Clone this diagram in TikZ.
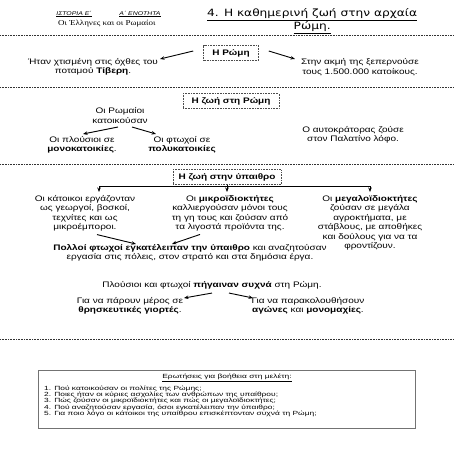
\documentclass[tikz,border=0pt]{standalone}
\usepackage{fontspec}
\setmainfont{Liberation Sans}[FakeStretch=1.25]
\newfontfamily\grserif{Liberation Serif}[FakeStretch=1.2]
\newfontfamily\grtitle{DejaVu Sans}[FakeStretch=1.22]
\newfontfamily\qfont{Liberation Sans}[FakeStretch=1.4]
\usetikzlibrary{arrows.meta}
\begin{document}
\begin{tikzpicture}[x=1pt,y=-1pt,
  every node/.style={inner sep=0pt},
  txt/.style={font=\fontsize{8}{9.5}\selectfont, align=center},
  boxn/.style={draw=black!70, densely dotted, line width=0.6pt, font=\fontsize{8}{9}\selectfont\bfseries, minimum height=15pt},
  arr/.style={-{Stealth[length=4.5pt,width=3.5pt]}, line width=0.9pt},
  stem/.style={line width=0.9pt},
  sep/.style={densely dotted, line width=0.6pt, black!80}]
\useasboundingbox[fill=white] (0,0) rectangle (453,453);

% header
\node[font=\fontsize{5.5}{6}\selectfont\itshape] (hist) at (74,14) {\underline{ΙΣΤΟΡΙΑ Ε΄}};
\node[font=\fontsize{5.5}{6}\selectfont\itshape] (unit) at (140,14) {\underline{Α΄ ΕΝΟΤΗΤΑ}};
\node[font=\grserif\fontsize{7.5}{8}\selectfont, anchor=west] (sub) at (58,24) {Οι Έλληνες και οι Ρωμαίοι};
\node[font=\grtitle\fontsize{10}{11}\selectfont, align=center, anchor=west] (title) at (207,21) {\underline{4. Η καθημερινή ζωή στην αρχαία}\\\underline{Ρώμη.}};
\draw[sep] (0,35) -- (453,35);

% section 1
\node[boxn, minimum width=55pt] (rome) at (231,53) {Η Ρώμη};
\node[txt] (tiber) at (93,67) {Ήταν χτισμένη στις όχθες του\\ποταμού \textbf{Τίβερη}.};
\node[txt] (acme) at (360,67) {Στην ακμή της ξεπερνούσε\\τους 1.500.000 κατοίκους.};
\coordinate (tiberTip) at (160,59);
\coordinate (acmeTip) at (295,59);
\draw[arr] ([shift={(-10,-2)}]rome.west) -- (tiberTip);
\draw[arr] ([shift={(10,-2)}]rome.east) -- (acmeTip);
\draw[sep] (0,87) -- (453,87);

% section 2
\node[boxn, minimum width=96pt] (life) at (231,101) {Η ζωή στη Ρώμη};
\node[txt] (romans) at (120,115.5) {Οι Ρωμαίοι\\κατοικούσαν};
\node[txt] (rich) at (82,145) {Οι πλούσιοι σε\\\textbf{μονοκατοικίες}.};
\node[txt] (poor) at (182,145) {Οι φτωχοί σε\\\textbf{πολυκατοικίες}};
\node[txt] (emperor) at (353,135) {Ο αυτοκράτορας ζούσε\\στον Παλατίνο λόφο.};
\coordinate (richTip) at (83,134);
\coordinate (poorTip) at (156,134);
\draw[arr] ([shift={(-2,11.5)}]romans.center) -- (richTip);
\draw[arr] ([shift={(12,11.5)}]romans.center) -- (poorTip);
\draw[sep] (0,164) -- (453,164);

% section 3
\node[boxn, minimum width=108pt] (country) at (227,177) {Η ζωή στην ύπαιθρο};
\coordinate (forkL) at (99,186);
\coordinate (forkM) at (227,186);
\coordinate (forkR) at (370,186);
\draw[stem] (country.south) -- (forkM);
\draw[stem] (forkL) -- (forkR);
\draw[arr] (forkL) -- ++(0,6);
\draw[arr] (forkM) -- ++(0,6);
\draw[arr] (forkR) -- ++(0,6);
\node[txt, anchor=north] (workers) at (85,195) {Οι κάτοικοι εργάζονταν\\ως γεωργοί, βοσκοί,\\τεχνίτες και ως\\μικροέμποροι.};
\node[txt, anchor=north] (small) at (230,195) {Οι \textbf{μικροϊδιοκτήτες}\\καλλιεργούσαν μόνοι τους\\τη γη τους και ζούσαν από\\τα λιγοστά προϊόντα της.};
\node[txt, anchor=north] (large) at (370,195) {Οι \textbf{μεγαλοϊδιοκτήτες}\\ζούσαν σε μεγάλα\\αγροκτήματα, με\\στάβλους, με αποθήκες\\και δούλους για να τα\\φροντίζουν.};
\node[txt] (leave) at (190,253) {\textbf{Πολλοί φτωχοί εγκατέλειπαν την ύπαιθρο} και αναζητούσαν\\εργασία στις πόλεις, στον στρατό και στα δημόσια έργα.};
\coordinate (leaveTipL) at (136,244);
\coordinate (leaveTipR) at (172,244);
\draw[arr] ([shift={(12,3)}]workers.south) -- (leaveTipL);
\draw[arr] ([shift={(-30,3)}]small.south) -- (leaveTipR);

% section 4
\node[txt] (visit) at (212,285) {Πλούσιοι και φτωχοί \textbf{πήγαιναν συχνά} στη Ρώμη.};
\node[txt] (fest) at (130,306) {Για να πάρουν μέρος σε\\\textbf{θρησκευτικές γιορτές}.};
\node[txt] (games) at (308,306) {Για να παρακολουθήσουν\\\textbf{αγώνες} και \textbf{μονομαχίες}.};
\coordinate (festTip) at (184,298);
\coordinate (gamesTip) at (253,298);
\draw[arr] ([shift={(0,4)}]visit.south) -- (festTip);
\draw[arr] ([shift={(17,4)}]visit.south) -- (gamesTip);
\draw[sep] (0,339) -- (453,339);

% questions
\node[draw=black!55, line width=0.8pt, minimum width=377pt, minimum height=58pt] (qbox) at (226.5,399) {};
\node[font=\qfont\fontsize{6}{7}\selectfont] (qtitle) at (227,378) {\underline{Ερωτήσεις για βοήθεια στη μελέτη:}};
\node[font=\qfont\fontsize{6}{6.1}\selectfont, align=left, anchor=north west] (qlist) at (44,386) {1. Πού κατοικούσαν οι πολίτες της Ρώμης;\\2. Ποιες ήταν οι κύριες ασχολίες των ανθρώπων της υπαίθρου;\\3. Πώς ζούσαν οι μικροϊδιοκτήτες και πώς οι μεγαλοϊδιοκτήτες;\\4. Πού αναζητούσαν εργασία, όσοι εγκατέλειπαν την ύπαιθρο;\\5. Για ποιο λόγο οι κάτοικοι της υπαίθρου επισκέπτονταν συχνά τη Ρώμη;};
\end{tikzpicture}
\end{document}
